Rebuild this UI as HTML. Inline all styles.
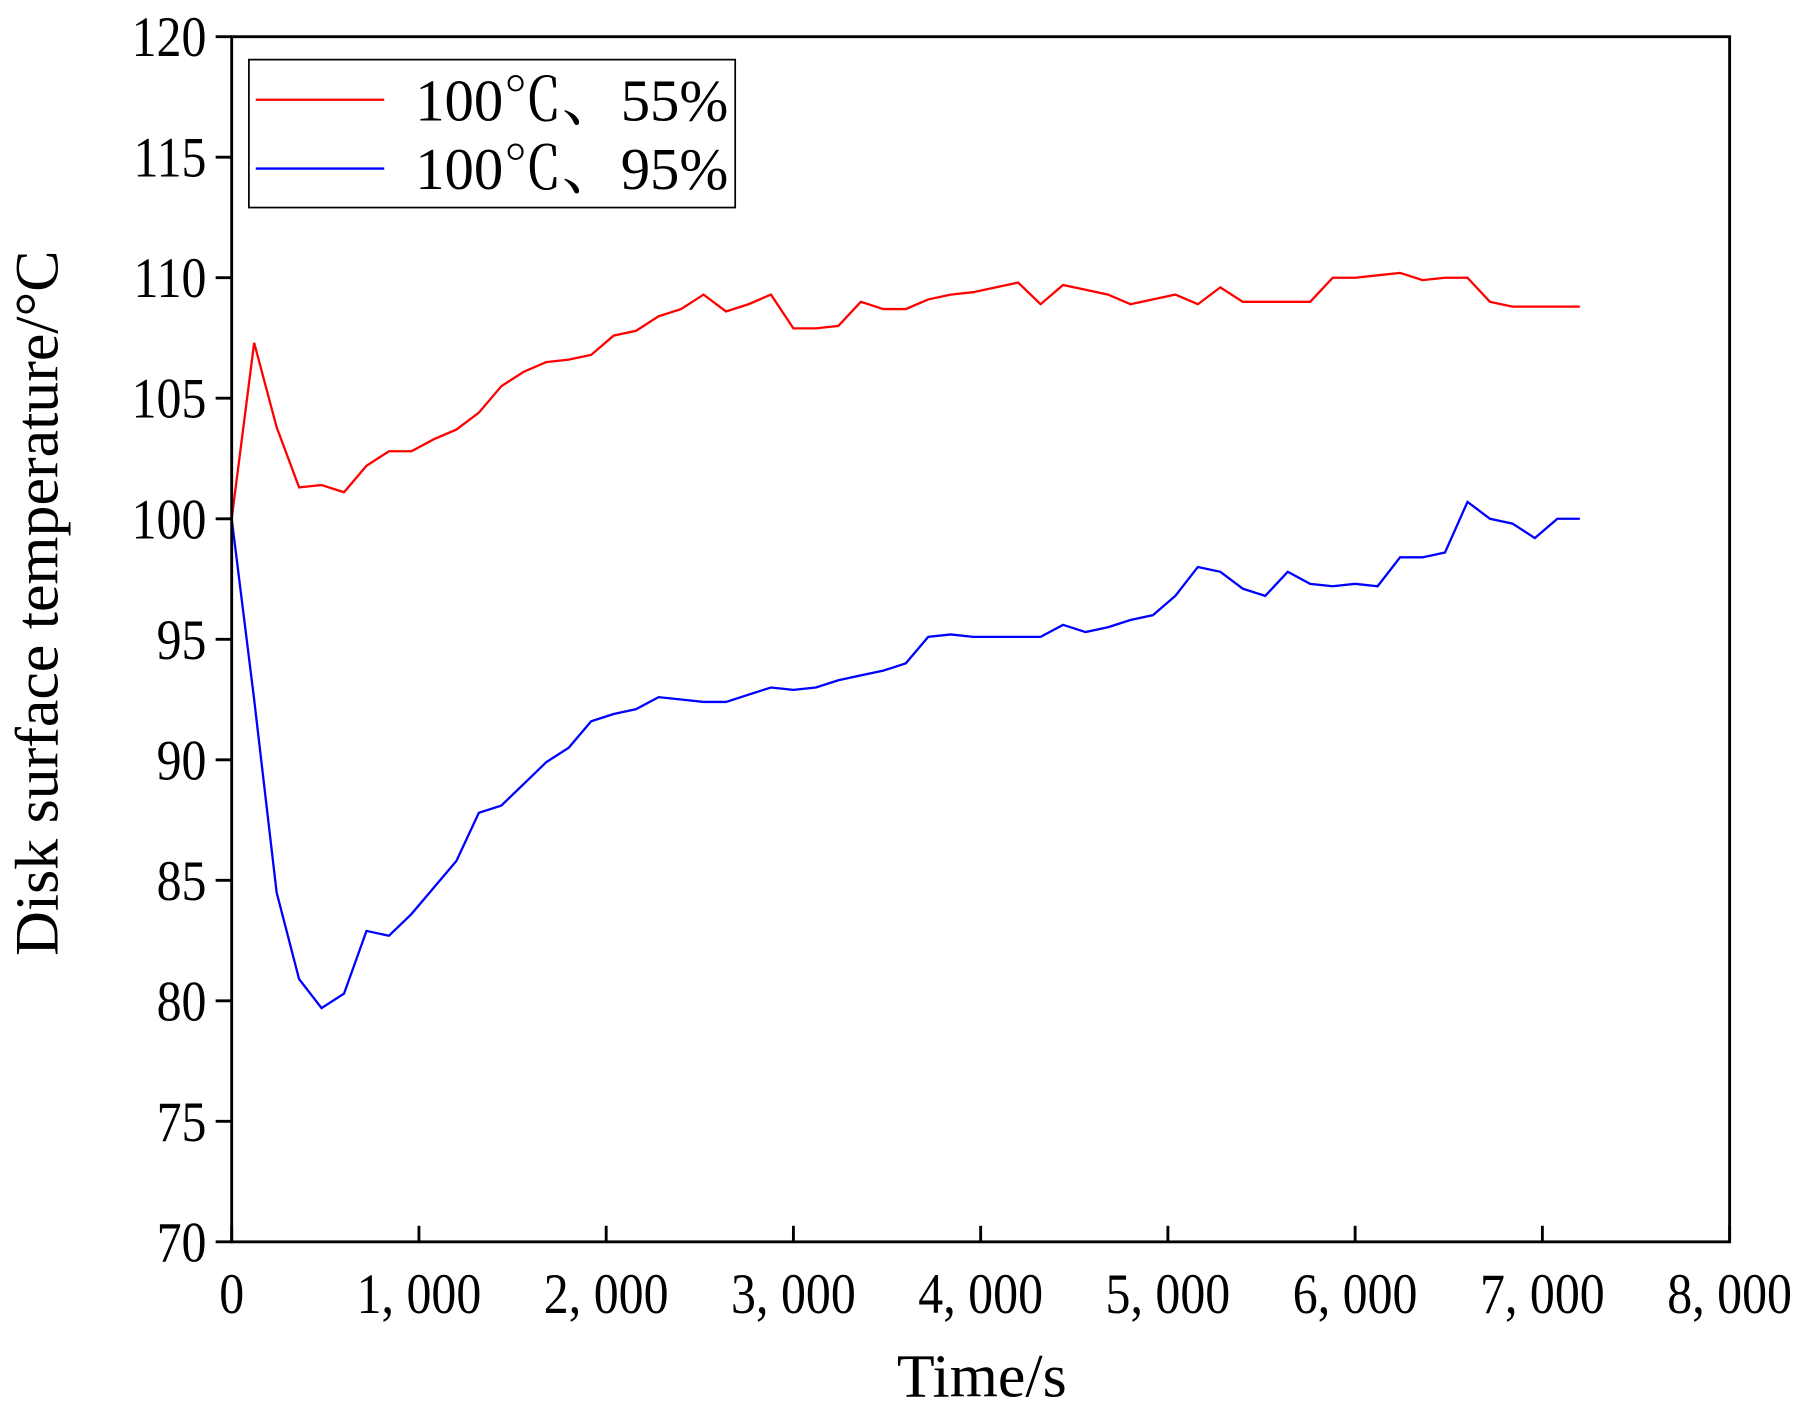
<!DOCTYPE html>
<html><head><meta charset="utf-8"><style>html,body{margin:0;padding:0;background:#fff}svg{display:block}</style></head>
<body>
<svg id="chart" width="1795" height="1415" viewBox="0 0 1565 1234" preserveAspectRatio="none" xmlns="http://www.w3.org/2000/svg" font-family="'Liberation Serif', 'Noto Serif CJK SC', serif">
<rect width="1565" height="1234" fill="#fff"/>
<g id="axes"></g>
<g id="series"></g>
<rect x="202" y="32" width="1306" height="1051" fill="none" stroke="#000" stroke-width="2.5"/>
<g>
<rect x="217" y="52" width="424" height="129" fill="#fff" stroke="#000" stroke-width="1.5"/>
<line x1="223" y1="87" x2="335" y2="87" stroke="#f00" stroke-width="2"/>
<text x="362" y="105" font-size="52" textLength="273" lengthAdjust="spacingAndGlyphs">100℃、55%</text>
<line x1="223" y1="147" x2="335" y2="147" stroke="#00f" stroke-width="2"/>
<text x="362" y="165" font-size="52" textLength="273" lengthAdjust="spacingAndGlyphs">100℃、95%</text>
</g>
<text x="856" y="1218" font-size="54" text-anchor="middle">Time/s</text>
<text transform="translate(50,526) rotate(-90)" font-size="54" text-anchor="middle">Disk surface temperature/°C</text>
</svg>
<script>
const times = [0,120,240,360,480,600,720,840,960,1080,1200,1320,1440,1560,1680,1800,1920,2040,2160,2280,2400,2520,2640,2760,2880,3000,3120,3240,3360,3480,3600,3720,3840,3960,4080,4200,4320,4440,4560,4680,4800,4920,5040,5160,5280,5400,5520,5640,5760,5880,6000,6120,6240,6360,6480,6600,6720,6840,6960,7080,7200];
const temp55 = [100,107.3,103.8,101.3,101.4,101.1,102.2,102.8,102.8,103.3,103.7,104.4,105.5,106.1,106.5,106.6,106.8,107.6,107.8,108.4,108.7,109.3,108.6,108.9,109.3,107.9,107.9,108.0,109.0,108.7,108.7,109.1,109.3,109.4,109.6,109.8,108.9,109.7,109.5,109.3,108.9,109.1,109.3,108.9,109.6,109.0,109.0,109.0,109.0,110.0,110.0,110.1,110.2,109.9,110.0,110.0,109.0,108.8,108.8,108.8,108.8];
const temp95 = [100,92.5,84.5,80.9,79.7,80.3,82.9,82.7,83.6,84.7,85.8,87.8,88.1,89.0,89.9,90.5,91.6,91.9,92.1,92.6,92.5,92.4,92.4,92.7,93.0,92.9,93.0,93.3,93.5,93.7,94.0,95.1,95.2,95.1,95.1,95.1,95.1,95.6,95.3,95.5,95.8,96.0,96.8,98.0,97.8,97.1,96.8,97.8,97.3,97.2,97.3,97.2,98.4,98.4,98.6,100.7,100.0,99.8,99.2,100.0,100.0];
const xTicks = [0,1000,2000,3000,4000,5000,6000,7000,8000];
const xTickLabels = ["0","1, 000","2, 000","3, 000","4, 000","5, 000","6, 000","7, 000","8, 000"];
const yTicks = [70,75,80,85,90,95,100,105,110,115,120];

const NS = "http://www.w3.org/2000/svg";
const X0=202,X1=1508,Y0=1083,Y1=32;
const xs = v => X0 + (v-0)/(8000-0)*(X1-X0);
const ys = v => Y0 - (v-70)/(120-70)*(Y0-Y1);
function mk(tag, attrs){const e=document.createElementNS(NS,tag);for(const k in attrs)e.setAttribute(k,attrs[k]);return e;}
const axes=document.getElementById('axes');
xTicks.forEach((t,i)=>{
  const l=mk('line',{x1:xs(t),x2:xs(t),y1:Y0,y2:Y0-14,stroke:'#000','stroke-width':2.5});
  
  
  axes.appendChild(l);
  const tx=mk('text',{transform:'translate('+xs(t)+','+(Y0+62)+') scale(0.87,1)','font-size':50,'text-anchor':'middle'});
  tx.textContent=xTickLabels[i];
  
  
  axes.appendChild(tx);
});
yTicks.forEach(t=>{
  const l=mk('line',{x1:X0,x2:X0-14,y1:ys(t),y2:ys(t),stroke:'#000','stroke-width':2.5});
  
  
  axes.appendChild(l);
  const tx=mk('text',{transform:'translate('+(X0-22)+','+(ys(t)+17)+') scale(0.87,1)','font-size':50,'text-anchor':'end'});
  tx.textContent=String(t);
  
  
  axes.appendChild(tx);
});
const ser=document.getElementById('series');
function line(vals,color,name){
  const p=mk('polyline',{points:vals.map((v,i)=>xs(times[i])+','+ys(v)).join(' '),fill:'none',stroke:color,'stroke-width':2});
  
  
  ser.appendChild(p);
}
line(temp55,'#f00','line-55-percent');
line(temp95,'#00f','line-95-percent');
</script>
</body></html>
